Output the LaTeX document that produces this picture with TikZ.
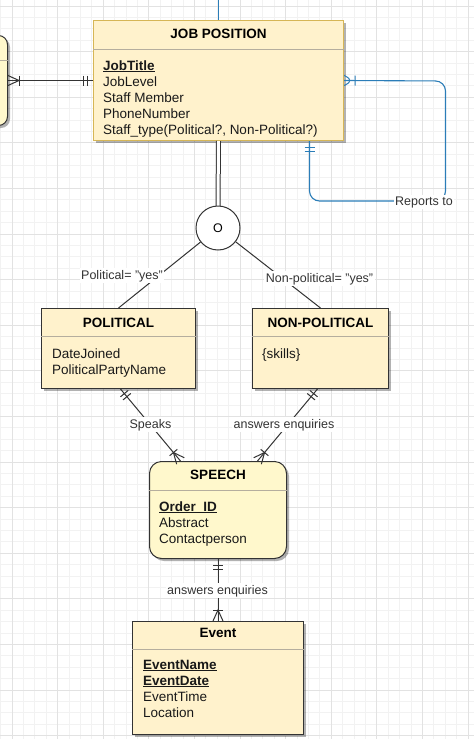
\documentclass[tikz,border=0pt]{standalone}
\usepackage{fontspec}
\setmainfont{Liberation Sans}
\usetikzlibrary{calc,shadows,decorations.markings}
\definecolor{entfill}{HTML}{FFF2CC}
\definecolor{rndfill}{HTML}{FFF8CC}
\definecolor{goldline}{HTML}{D6B656}
\definecolor{edgecol}{HTML}{333333}
\definecolor{bluecol}{HTML}{2B7DB8}
\definecolor{gridminor}{HTML}{F2F2F2}
\definecolor{gridmajor}{HTML}{E2E2E2}
\definecolor{sepcol}{HTML}{B5AE9E}
\newcommand\entfont{\fontsize{13.5}{16}\selectfont}
\newcommand\lblfont{\fontsize{12.5}{15}\selectfont}
\newsavebox\keybox
\newcommand\keyattr[1]{\sbox\keybox{\textbf{#1}}\rlap{\rule[-2.2pt]{\wd\keybox}{0.9pt}}\usebox\keybox}
\tikzset{
  ent/.style={rectangle, draw=#1, fill=entfill, line width=1pt, anchor=north west, inner sep=0pt,
     drop shadow={shadow xshift=2.5pt, shadow yshift=-2.5pt, opacity=0.3, fill=black}},
  ent/.default=edgecol,
  hdr/.style={anchor=base, inner sep=0pt, font=\entfont\bfseries, text=black},
  attr/.style={anchor=base west, inner sep=0pt, font=\entfont, text=black!90},
  sepline/.style={draw=sepcol, line width=0.8pt},
  lbl/.style={anchor=base, fill=white, inner sep=1.5pt, font=\lblfont, text=edgecol},
  conn/.style={color=edgecol, line width=1pt},
  bconn/.style={color=bluecol, line width=1.1pt},
  mone/.style={postaction={decorate, decoration={markings,
     mark=at position 6pt with {\draw[line width=1pt] (0pt,-5pt) -- (0pt,5pt);},
     mark=at position 10pt with {\draw[line width=1pt] (0pt,-5pt) -- (0pt,5pt);}}}},
  many/.style={postaction={decorate, decoration={markings,
     mark=at position 0.9999 with {\draw[line width=1pt] (0pt,-5pt) -- (-11pt,0pt) -- (0pt,5pt);
        \draw[line width=1pt] (-11pt,-5pt) -- (-11pt,5pt);}}}}
}
\begin{document}
\begin{tikzpicture}[x=1pt,y=-1pt]
\useasboundingbox (0,0) rectangle (474,739);
\begin{scope}
\clip (0,0) rectangle (474,739);
\fill[white] (0,0) rectangle (474,739);
% grid
\foreach \k in {0,...,42} {\draw[gridminor, line width=0.7pt] ({0.6+\k*11.4},0) -- ({0.6+\k*11.4},739);}
\foreach \k in {0,...,65} {\draw[gridminor, line width=0.7pt] (0,{6+\k*11.4}) -- (474,{6+\k*11.4});}
\foreach \k in {0,...,10} {\draw[gridmajor, line width=0.7pt] ({12+\k*45.6},0) -- ({12+\k*45.6},739);}
\foreach \k in {0,...,16} {\draw[gridmajor, line width=0.7pt] (0,{6+\k*45.6}) -- (474,{6+\k*45.6});}

% entities (boxes)
\node[ent, fill=rndfill, rounded corners=9pt, minimum width=27, minimum height=90] (lbox) at (-20,35) {};
\node[ent=goldline, minimum width=250, minimum height=120] (job) at (93,20) {};
\node[ent, minimum width=154, minimum height=80] (pol) at (41,308) {};
\node[ent, minimum width=136, minimum height=80] (nonpol) at (252,308) {};
\node[ent, fill=rndfill, rounded corners=12pt, minimum width=137, minimum height=97] (speech) at (149,461) {};
\node[ent, minimum width=171, minimum height=113] (event) at (132,621) {};

% connectors
\draw[conn, mone, many] (job.west) -- (lbox.east);
\draw[bconn, mone, many, rounded corners=10pt] ($(job.south)+(91,0)$) -- ++(0,60) -- ++(136,0) -- ++(0,-120) -- (job.east);
\draw[bconn] (job.north) -- ++(0,-25);
\draw[edgecol, line width=1pt, double=white, double distance=3pt] (job.south) -- (218,206);
\node[circle, draw=edgecol, fill=white, line width=1pt, minimum size=44, inner sep=0pt, font=\fontsize{12.5}{15}\selectfont] (circ) at (218,228) {O};
\draw[conn] (circ) -- (pol.north);
\draw[conn] (circ) -- (nonpol.north);
\draw[conn, mone, many] ($(pol.south)+(2,0)$) -- ($(speech.north)+(-37.5,0)$);
\draw[conn, mone, many] ($(nonpol.south)+(-3,0)$) -- ($(speech.north)+(39.5,0)$);
\draw[conn, mone, many] (speech.south) -- (event.north);

% connector labels
\node[lbl] (l1) at (122,279) {Political= "yes"};
\node[lbl] (l2) at (319.5,282) {Non-political= "yes"};
\node[lbl] (l3) at (150.5,428) {Speaks};
\node[lbl] (l4) at (284,428) {answers enquiries};
\node[lbl] (l5) at (217.5,594) {answers enquiries};
\node[lbl] (l6) at (424,205) {Reports to};

% separators
\draw[sepline] ($(lbox.north west)+(0,25)$) -- ($(lbox.north east)+(0,25)$);
\draw[sepline] ($(job.north west)+(0,29)$) -- ($(job.north east)+(0,29)$);
\draw[sepline] ($(pol.north west)+(0,28)$) -- ($(pol.north east)+(0,28)$);
\draw[sepline] ($(nonpol.north west)+(0,28)$) -- ($(nonpol.north east)+(0,28)$);
\draw[sepline] ($(speech.north west)+(0,29)$) -- ($(speech.north east)+(0,29)$);
\draw[sepline] ($(event.north west)+(0,28)$) -- ($(event.north east)+(0,28)$);

% headers
\node[hdr] (jobh) at ($(job.north)+(0,18)$) {JOB POSITION};
\node[hdr] (polh) at ($(pol.north)+(0,19)$) {POLITICAL};
\node[hdr] (nonpolh) at ($(nonpol.north)+(0,19)$) {NON-POLITICAL};
\node[hdr] (speechh) at ($(speech.north)+(0,18)$) {SPEECH};
\node[hdr] (eventh) at ($(event.north)+(0,16)$) {Event};

% attributes
\foreach \t [count=\i] in {{\keyattr{JobTitle}}, JobLevel, Staff Member, PhoneNumber, {Staff\_type(Political?, Non-Political?)}}
  {\node[attr] (joba\i) at (103,{54+16*\i}) {\t};}
\node[attr] (pola1) at (52,358) {DateJoined};
\node[attr] (pola2) at (52,374) {PoliticalPartyName};
\node[attr] (nonpola1) at (262,358) {\{skills\}};
\foreach \t [count=\i] in {{\keyattr{Order\_ID}}, Abstract, Contactperson}
  {\node[attr] (speecha\i) at (159,{495+16*\i}) {\t};}
\foreach \t [count=\i] in {{\keyattr{EventName}}, {\keyattr{EventDate}}, EventTime, Location}
  {\node[attr] (eventa\i) at (143,{653+16*\i}) {\t};}
\end{scope}
\end{tikzpicture}
\end{document}
